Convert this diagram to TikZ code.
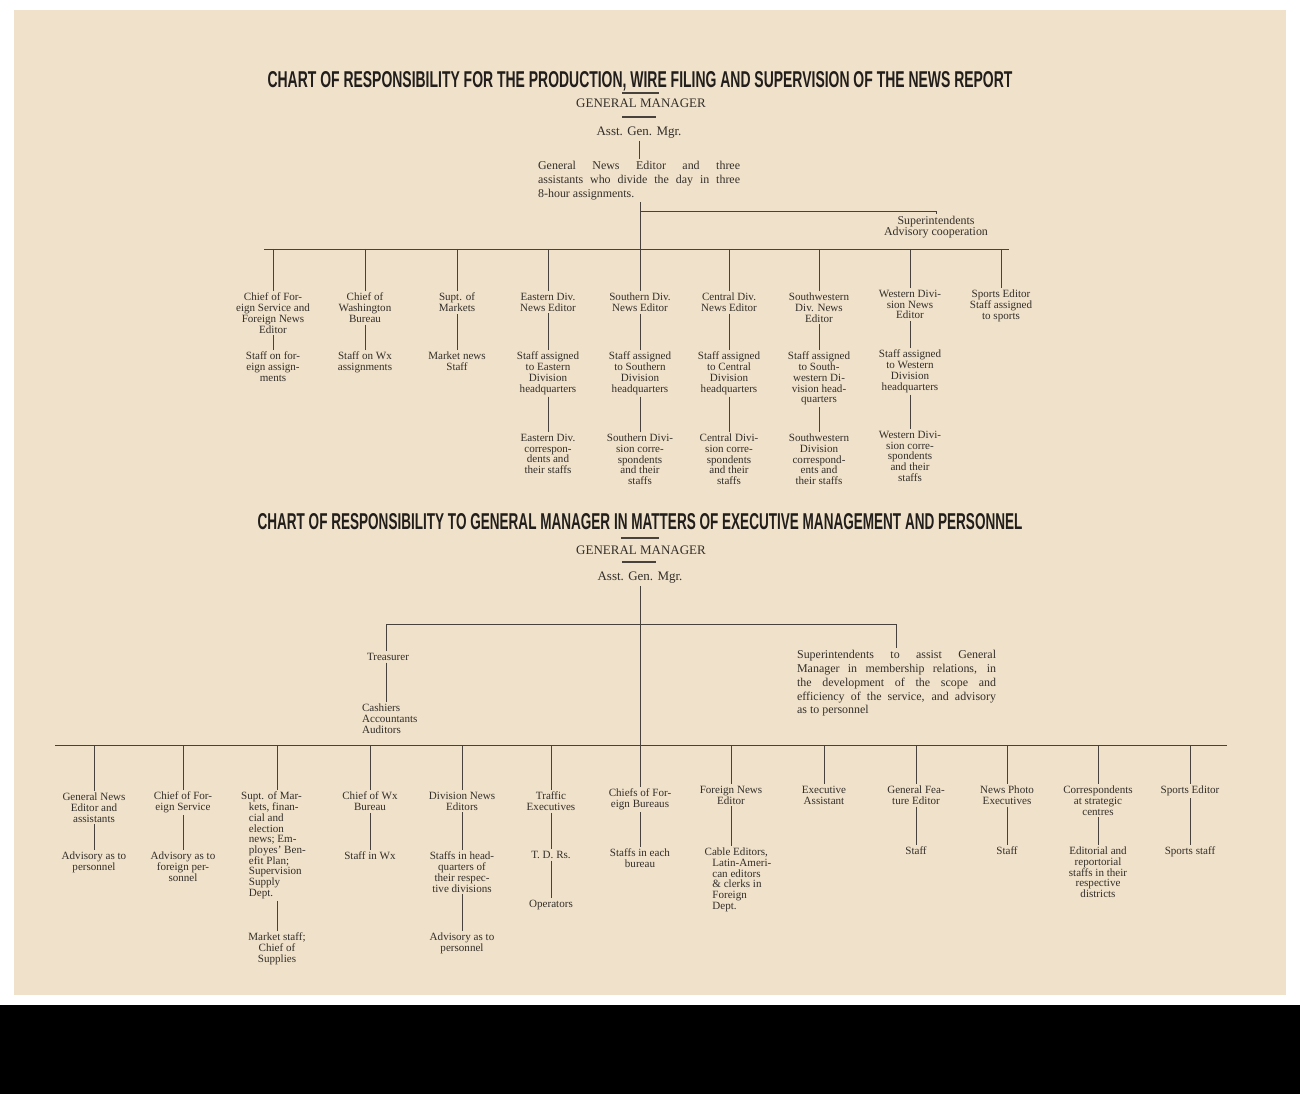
\documentclass[tikz,border=0pt]{standalone}
\usepackage{fontspec}
\setmainfont{Liberation Serif}
\newfontfamily\headfont{Liberation Sans}
\usepackage{graphicx}
\usetikzlibrary{positioning}

\definecolor{paper}{RGB}{240,226,202}
\definecolor{ink}{RGB}{52,47,42}
\definecolor{headink}{RGB}{34,30,28}
\definecolor{lineink}{RGB}{72,66,60}

\newcommand{\chartfont}{\fontsize{6.3}{6.1}\selectfont}
\newcommand{\notefont}{\fontsize{6.8}{7.9}\selectfont}
\newcommand{\officefont}{\fontsize{7.4}{8}\selectfont}
\newcommand{\jline}[2][4cm]{\makebox[#1][s]{#2}}
\newcommand{\ind}{\hspace*{0.7em}}

\begin{document}
\begin{tikzpicture}[x=0.02cm, y=-0.02cm]

\tikzstyle{post} = [font=\chartfont, text=ink, align=center, inner sep=1pt, anchor=north]
\tikzstyle{note} = [font=\notefont, text=ink, align=left, inner sep=1pt, anchor=north west]
\tikzstyle{office} = [font=\officefont, text=ink, inner sep=1pt]
\tikzstyle{heading} = [font=\headfont\bfseries, text=headink, inner sep=0pt]
\tikzstyle{link} = [draw=lineink, line width=0.55pt]
\tikzstyle{bar} = [draw=lineink, line width=1.2pt]

% Paper
\useasboundingbox (0,0) rectangle (1300,1094);
\fill[white] (0,0) rectangle (1300,1094);
\fill[paper] (14,10) rectangle (1286,995);
\fill[black] (0,1005) rectangle (1300,1094);

% Upper chart: head nodes
\node (title1) [heading] at (640,81) {\resizebox{14.9cm}{0.32cm}{CHART OF RESPONSIBILITY FOR THE PRODUCTION, WIRE FILING AND SUPERVISION OF THE NEWS REPORT}};
\node (gm1) [office] at (641,103) {GENERAL MANAGER};
\node (asst1) [office] at (639,133) {Asst. Gen. Mgr.};
\node (gne1) [note] at (536,159) {\jline[4.04cm]{General News Editor and three}\\
  \jline[4.04cm]{assistants who divide the day in three}\\
  8-hour assignments.};
\node (supt1) [post, font=\fontsize{6.8}{6.3}\selectfont] at (936,214) {Superintendents\\Advisory cooperation};

\coordinate (rule1a) at (622,93);
\coordinate (rule1b) at (659,93);
\coordinate (rule2a) at (622,117);
\coordinate (rule2b) at (656,117);
\coordinate (fork1) at (640,211);
\coordinate (bar1L) at (264,249);
\coordinate (bar1R) at (1009,249);

% Upper chart: divisions
\node (fs1) [post] at (273,291) {Chief of For-\\eign Service and\\Foreign News\\Editor};
\node (wash1) [post] at (365,291) {Chief of\\Washington\\Bureau};
\node (mkt1) [post] at (457,291) {Supt. of\\Markets};
\node (east1) [post] at (548,291) {Eastern Div.\\News Editor};
\node (south1) [post] at (640,291) {Southern Div.\\News Editor};
\node (cent1) [post] at (729,291) {Central Div.\\News Editor};
\node (sw1) [post] at (819,291) {Southwestern\\Div. News\\Editor};
\node (west1) [post] at (910,288) {Western Divi-\\sion News\\Editor};
\node (sport1) [post] at (1001,288) {Sports Editor\\Staff assigned\\to sports};

\node (fs2) [post] at (273,350) {Staff on for-\\eign assign-\\ments};
\node (wash2) [post] at (365,350) {Staff on Wx\\assignments};
\node (mkt2) [post] at (457,350) {Market news\\Staff};
\node (east2) [post] at (548,350) {Staff assigned\\to Eastern\\Division\\headquarters};
\node (south2) [post] at (640,350) {Staff assigned\\to Southern\\Division\\headquarters};
\node (cent2) [post] at (729,350) {Staff assigned\\to Central\\Division\\headquarters};
\node (sw2) [post] at (819,350) {Staff assigned\\to South-\\western Di-\\vision head-\\quarters};
\node (west2) [post] at (910,348) {Staff assigned\\to Western\\Division\\headquarters};

\node (east3) [post] at (548,432) {Eastern Div.\\correspon-\\dents and\\their staffs};
\node (south3) [post] at (640,432) {Southern Divi-\\sion corre-\\spondents\\and their\\staffs};
\node (cent3) [post] at (729,432) {Central Divi-\\sion corre-\\spondents\\and their\\staffs};
\node (sw3) [post] at (819,432) {Southwestern\\Division\\correspond-\\ents and\\their staffs};
\node (west3) [post] at (910,429) {Western Divi-\\sion corre-\\spondents\\and their\\staffs};

% Upper chart: connect nodes
\draw[bar] (rule1a) -- (rule1b);
\draw[bar] (rule2a) -- (rule2b);
\draw[link] (asst1.south) -- (asst1.south |- gne1.north);
\draw[link] (gne1.south -| fork1) -- (fork1 |- bar1L);
\draw[link] (fork1) -| (supt1.north);
\draw[link] (bar1L) -- (bar1R);
\foreach \n in {fs1, wash1, mkt1, east1, south1, cent1, sw1, west1, sport1}
  \draw[link] (\n.north |- bar1L) -- (\n.north);
\foreach \a/\b in {fs1/fs2, wash1/wash2, mkt1/mkt2, east1/east2, south1/south2, cent1/cent2, sw1/sw2, west1/west2, east2/east3, south2/south3, cent2/cent3, sw2/sw3, west2/west3}
  \draw[link] (\a) -- (\b);

% Lower chart: head nodes
\node (title2) [heading] at (640,522) {\resizebox{15.3cm}{0.32cm}{CHART OF RESPONSIBILITY TO GENERAL MANAGER IN MATTERS OF EXECUTIVE MANAGEMENT AND PERSONNEL}};
\node (gm2) [office] at (641,550) {GENERAL MANAGER};
\node (asst2) [office] at (640,578) {Asst. Gen. Mgr.};
\node (treas) [post, align=left] at (388,651) {Treasurer};
\node (cash) [post, anchor=north west, align=left] at (360,702) {Cashiers\\Accountants\\Auditors};
\node (supt2) [note] at (795,648) {\jline[3.98cm]{Superintendents to assist General}\\
  \jline[3.98cm]{Manager in membership relations, in}\\
  \jline[3.98cm]{the development of the scope and}\\
  \jline[3.98cm]{efficiency of the service, and advisory}\\
  as to personnel};

\coordinate (rule3a) at (621,538);
\coordinate (rule3b) at (659,538);
\coordinate (rule4a) at (622,562);
\coordinate (rule4b) at (656,562);
\coordinate (forkL) at (386,624);
\coordinate (forkR) at (896,624);
\coordinate (bar2L) at (55,745);
\coordinate (bar2R) at (1227,745);

% Lower chart: departments
\node (gne2) [post] at (94,791) {General News\\Editor and\\assistants};
\node (cfs) [post] at (183,790) {Chief of For-\\eign Service};
\node (supm) [post, anchor=north west, align=left] at (239,790) {Supt. of Mar-\\\ind kets, finan-\\\ind cial and\\\ind election\\\ind news; Em-\\\ind ployes' Ben-\\\ind efit Plan;\\\ind Supervision\\\ind Supply\\\ind Dept.};
\node (cwx) [post] at (370,790) {Chief of Wx\\Bureau};
\node (dne) [post] at (462,790) {Division News\\Editors};
\node (traf) [post] at (551,790) {Traffic\\Executives};
\node (cfb) [post] at (640,787) {Chiefs of For-\\eign Bureaus};
\node (fne) [post] at (731,784) {Foreign News\\Editor};
\node (exa) [post] at (824,784) {Executive\\Assistant};
\node (gfe) [post] at (916,784) {General Fea-\\ture Editor};
\node (npe) [post] at (1007,784) {News Photo\\Executives};
\node (corr) [post] at (1098,784) {Correspondents\\at strategic\\centres};
\node (spe) [post] at (1190,784) {Sports Editor};

\node (gne2a) [post] at (94,850) {Advisory as to\\personnel};
\node (cfsa) [post] at (183,850) {Advisory as to\\foreign per-\\sonnel};
\node (supma) [post] at (277,931) {Market staff;\\Chief of\\Supplies};
\node (cwxa) [post] at (370,850) {Staff in Wx};
\node (dnea) [post] at (462,850) {Staffs in head-\\quarters of\\their respec-\\tive divisions};
\node (trafa) [post] at (551,849) {T. D. Rs.};
\node (cfba) [post] at (640,847) {Staffs in each\\bureau};
\node (fnea) [post, align=left] at (738,846) {Cable Editors,\\\ind Latin-Ameri-\\\ind can editors\\\ind \& clerks in\\\ind Foreign\\\ind Dept.};
\node (gfea) [post] at (916,845) {Staff};
\node (npea) [post] at (1007,845) {Staff};
\node (corra) [post] at (1098,845) {Editorial and\\reportorial\\staffs in their\\respective\\districts};
\node (spea) [post] at (1190,845) {Sports staff};

\node (dneb) [post] at (462,931) {Advisory as to\\personnel};
\node (trafb) [post] at (551,898) {Operators};

% Lower chart: connect nodes
\draw[bar] (rule3a) -- (rule3b);
\draw[bar] (rule4a) -- (rule4b);
\draw[link] (asst2.south) -- (asst2.south |- bar2L);
\draw[link] (treas.north -| forkL) -- (forkL) -- (forkR) -- (supt2.north -| forkR);
\draw[link] (treas.south -| forkL) -- (cash.north -| forkL);
\draw[link] (bar2L) -- (bar2R);
\foreach \n in {gne2, cfs, cwx, dne, traf, cfb, fne, exa, gfe, npe, corr, spe}
  \draw[link] (\n.north |- bar2L) -- (\n.north);
\draw[link] (supma |- bar2L) -- (supma |- supm.north);
\draw[link] (supma |- supm.south) -- (supma.north);
\draw[link] (fne.south) -- (fne.south |- fnea.north);
\foreach \a/\b in {gne2/gne2a, cfs/cfsa, cwx/cwxa, dne/dnea, traf/trafa, cfb/cfba, gfe/gfea, npe/npea, corr/corra, spe/spea, dnea/dneb, trafa/trafb}
  \draw[link] (\a) -- (\b);

\end{tikzpicture}
\end{document}
